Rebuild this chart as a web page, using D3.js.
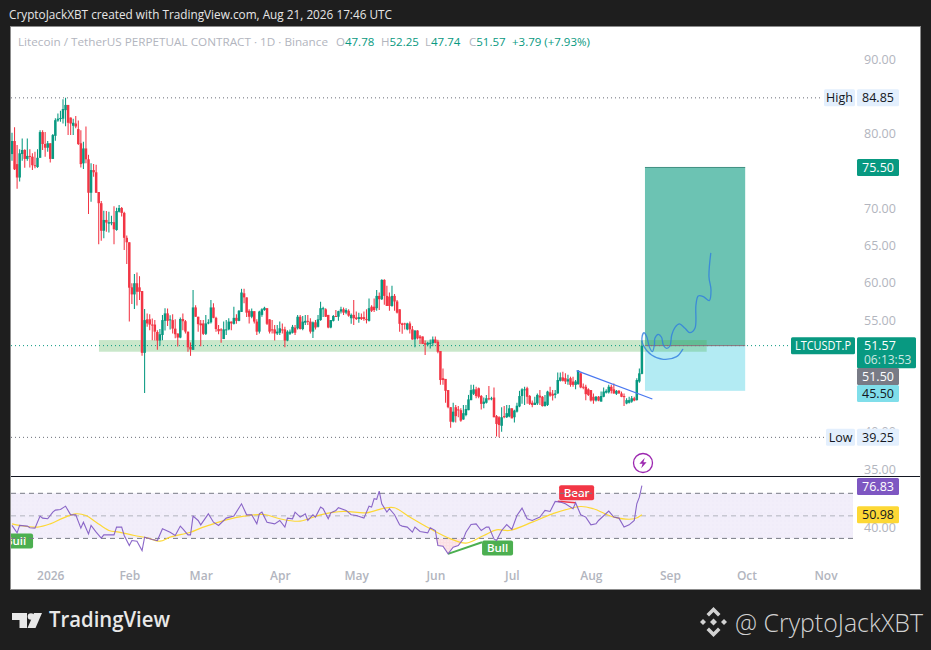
<!DOCTYPE html>
<html><head><meta charset="utf-8">
<script src="https://cdn.jsdelivr.net/npm/d3@7/dist/d3.min.js"></script>
<style>
html,body{margin:0;padding:0;background:#1e1e1e;overflow:hidden}
svg{display:block}
text{font-family:"Open Sans","Noto Sans",sans-serif}
</style></head><body><svg id="c" width="931" height="650"></svg>
<script>
const opens=[77.3,79.05,75.95,74.15,77.3,77.85,76.65,77.05,76.95,75.8,75.55,76.8,80.25,78.65,78.15,78.75,76.65,79.75,81.8,82.0,82.05,83.2,83.9,82.2,81.1,81.4,80.65,78.75,76.05,78.05,76.6,72.1,75.15,74.85,72.2,70.7,67,68.45,67.95,68,68.15,67.1,69.55,70.05,69.4,66.05,65.45,59.4,58.45,59.95,59.4,58.9,50.6,55.1,55.1,54.4,54.4,53.4,52.25,53,54.9,55.9,55,55,53.85,53.2,52.65,55.15,54.85,53.45,51.4,51,56.7,55.45,54.55,54.55,53.15,54.55,54.7,56.7,55.3,53.8,
53.75,52.45,53.65,53.75,54.8,54.5,55.3,54.9,56.1,58.6,58.05,56.25,55.45,56.2,54.8,53.45,55.7,56.35,56.6,55.1,53.75,53.75,53.2,53.3,53.75,53.75,52.25,53.15,53.3,54,53.9,55.45,53.8,54.65,54.9,54.8,53.45,54.7,54.1,55,56.45,56.45,55.7,54,54.9,55.55,55.45,56.15,56.45,56,56.25,55.25,55.7,55.35,55.15,55.4,55.4,55.15,54.9,56.8,56.8,56.6,58.25,57.8,60.4,58.25,58.15,56.9,58.25,57.5,56.45,54.55,54.55,53.75,54.55,53.75,52.4,53.6,52.8,52.8,51.9,51.7,51.8,51.9,52.4,52.1,
50.85,47.2,47.1,45.6,43.3,41.35,43.3,43,42.9,41.65,42.25,42.9,44.25,45.1,45.7,45.85,44.8,43.75,43.9,44.5,44.4,44.6,42.1,41.95,40.8,42.1,41.95,42.05,43.15,41.95,42.7,43.4,44.8,45.6,45.85,44.8,43.9,43.6,43.8,44.85,44.7,43.45,43.6,45.3,45.1,44.95,45.15,46.85,47.3,47.2,46.75,47.2,46.75,46.3,46.4,47.85,46.05,46.05,45.7,45.6,44.7,44.2,44.7,44.05,44.7,45.25,45.3,46.05,45.7,45.1,45.5,45.15,44.8,43.8,43.9,44.05,44.5,44.25,46.75,47.78];
const highs=[80.17,80.9,78.5,77.95,79.4,77.95,79.4,77.95,77.4,77.6,77.95,80.5,80.5,80.25,79.05,78.75,80,82.1,82.75,83.1,84.65,84.85,83.9,82.2,82.05,82.4,81.8,80.5,78.95,81,77.2,76.05,75.95,75.85,72.2,71,69.7,69.65,69.55,69,70.3,70.1,70.45,70.2,69.55,66.35,65.45,59.95,61.2,61.4,60.9,58.9,56.5,55.9,55.8,55.2,55,53.65,53.8,55.7,56.6,56.55,55.65,55.8,55.1,53.2,55.35,55.9,55,53.45,52,59.05,57,55.45,55,55,55.7,55.1,57.7,57.25,55.45,54.35,
53.9,54.8,55,55.25,54.8,56.8,55.8,56.35,59.2,59.2,58.05,56.45,56.55,56.2,55.1,56.25,56.6,56.8,56.6,55.1,55,54.35,54.35,54.8,54.55,54.1,53.65,53.75,54.35,54.35,55.7,55.7,55.55,55.7,55.7,55.25,54.8,55,55.7,57.45,56.8,56.6,55.7,55,55.7,56.35,56.25,56.8,56.7,56.6,56.45,55.9,57.7,56.15,56,55.9,56.15,56.45,57.9,57,57.9,59.05,58.7,60.5,60.5,59.6,58.7,59.6,58.5,57.7,56.45,54.65,54.65,54.65,54.8,54.2,53.65,53.65,53,52.8,52.25,52.1,52.4,52.8,52.8,52.35,
50.85,48.5,47.1,45.6,43.3,43.9,43.6,43.45,43.15,43.6,43.6,44.95,46.3,46.3,46.05,45.95,44.95,44.6,44.95,46.15,44.7,45.95,42.25,42.1,43.3,43.45,43.6,43.6,43.15,42.95,43.9,45.5,45.85,46.05,46.05,44.95,44.2,44.7,45.15,45.6,44.8,44.95,45.5,46.05,45.6,45.6,47.95,47.95,48.05,47.85,47.65,47.4,47.4,46.95,48.3,47.95,46.5,46.3,45.85,45.6,45.15,44.8,44.8,45.4,45.95,45.7,46.3,46.3,46.5,45.6,45.6,45.4,45.15,44.5,44.7,44.8,44.7,47.2,48.5,52.25];
const lows=[76.4,75.15,72.65,73.6,76.4,75.45,76.4,75.5,75.15,75.4,75.45,76.8,77.85,76.95,77.6,76.15,76.65,79.1,81.65,81.65,81.4,81.05,79.85,79.85,79.85,80.75,78.5,75.5,75.3,76.05,69.25,70.9,74.25,72.1,65.2,65.65,66,66.85,66.75,67.75,65.2,67,69.45,68.9,64.4,62.55,54.8,57.15,56.5,56.95,57.7,50.2,45.2,54.1,53.65,52.3,52.25,51,51.55,52.3,53.6,54.2,53.75,53.2,52.55,51.45,52.55,53.65,53.2,50.75,50.2,51,55.45,53.45,51.5,53,53,54.45,54.55,55.25,53.45,53.1,
51.95,52.45,53,53.65,53.65,54.4,54.5,54.85,56.1,57.25,55.4,54.55,55.25,54.55,53,53.2,55.45,56.25,54.35,53.2,53.2,52.25,53,53,53.2,51.35,52.15,53,53.2,53,53.75,53.75,53.65,54.35,54.35,53.2,52.6,53.75,54,54.9,55.4,55.4,53.9,53.9,54.8,55.4,54.9,55.9,55.7,55.8,55.45,54.5,54.35,55,54.65,55,54.9,54.55,54.8,56.1,56.1,56.25,56.35,57.7,57.05,56.9,56.25,56.8,56.25,55.9,53.45,53.15,53.75,53.65,53.2,52.35,51.35,52.4,51.8,51.8,50.3,51.5,51.2,51.5,51.9,50.55,
46.3,46.3,43.9,43.15,40.55,41.25,41.25,41.95,41.35,41.6,42.1,42.9,44.25,44.95,44.5,44.5,43,43.15,43.8,44.25,44.25,41.95,39.35,39.25,40,41.8,41.85,41.95,41.8,41.25,42.6,43.3,43.75,43.6,43.75,43.6,43.3,43.6,43.6,43.6,43.4,43.4,43.45,44.7,44.2,44.5,45.1,46.75,46.75,46.4,46.3,46.05,46.05,45.7,46.3,45.85,45.7,44.25,44.8,44.05,43.75,44.05,44.1,44.05,44.65,45.15,45.15,45.15,45.1,44.95,45.1,44.65,43.45,43.7,43.8,43.9,44.1,44.2,46.6,47.74];
const closes=[79.05,75.25,74.15,77.4,77.85,76.65,77.05,76.95,75.8,75.7,76.8,80.25,78.65,78.15,78.75,76.65,79.85,81.85,82.05,82.15,83.35,83.9,81.5,81.4,81.5,81,78.65,75.95,78.05,76.6,72.1,75.15,74.85,72.1,70.7,67,68.45,68.1,68.15,68.15,67.2,69.65,70.05,69.4,66.05,65.45,59.35,58.45,59.95,58.8,58.8,50.6,55,54.55,54.4,54.35,53.45,52.25,53.1,55,55.9,54.9,55.1,53.85,53.1,52.65,55.15,54.85,53.45,51.35,51.05,56.7,55.45,54.45,54.3,53.15,54.55,54.7,56.7,55.3,53.8,53.5,
53.6,53.75,53.75,54.8,54.55,55.3,54.9,56.25,58.7,58.05,56,55.45,56.2,54.8,53.45,56.15,56.45,56.65,54.5,53.45,53.65,53.2,53.45,53.9,53.6,52.25,53.45,53.45,54.1,53.3,55.45,53.8,54.8,54.9,54.8,53.45,54.7,54,55.1,56.6,56.6,55.45,54,55,55.55,55.45,56.2,56.45,56,56.35,55.6,55.7,55.25,55.15,55.4,55.15,55.15,55,56.6,56.25,56.35,58.25,57.8,60.4,58.25,56.9,56.9,58.25,57.5,56,54.5,54.35,54.5,54.55,53.75,52.4,53.6,52.55,52.55,51.8,51.7,51.95,51.95,52.4,51.95,50.75,
46.95,46.95,45.5,43.3,41.35,42.7,42.1,42.9,41.5,42.5,43.05,44.35,45.6,45.7,44.8,44.7,43.75,44.05,44.5,44.4,44.5,41.95,41.05,40.9,41.95,41.95,42.5,43.15,41.8,42.85,43.5,44.8,45.7,45.7,44.7,43.75,43.6,43.9,44.95,44.6,43.45,44.05,45.4,44.85,44.85,45.15,46.95,47.3,46.85,46.75,47.05,46.3,46.3,46.75,48.2,45.95,45.95,45.05,44.95,44.2,44.2,44.7,44.2,44.8,45.4,45.5,46.05,45.5,45.15,45.5,45.15,44.7,44.65,44.25,44.25,44.5,44.2,46.95,47.85,51.57];

const rsiIdx=[0,2,3,6,7,9,11,12,14,16,17,19,21,23,25,27,28,30,31,33,35,36,40,41,43,44,46,47,49,51,52,55,57,59,62,64,66,67,69,70,71,73,74,77,79,81,84,87,90,92,94,96,97,98,100,103,105,107,108,110,111,113,115,116,118,119,121,122,124,125,127,128,131,133,135,138,140,141,142,143,144,145,147,148,150,152,153,155,157,158,160,163,164,166,167,169,171,173,175,177,178,180,182,184,186,187,189,190,192,194,196,198,200,202,204,207,209,211,213,215,217,220,221,223,225,227,229,230,234,236,238,240,242,244,245,246,247];
const rsiVal=[41.5,34.9,41.5,40.9,39.4,39.1,49.75,48,47.4,53.3,55.1,55.7,58.6,50.9,50.9,39.1,44.4,34,41.5,35.5,30.2,33.1,33.1,40,40,32.6,23.7,28.1,27.5,19.2,31.1,29,28.1,38.5,35.5,32.6,40.9,38.5,33.1,33.1,49.75,45.9,42,51.8,44.4,41.5,48,49.75,60.7,50.9,50.9,42.9,51.8,53.3,44.4,42.9,45.9,40,48,47.4,53.3,48.9,51.8,45.9,51,48.9,57.8,56.3,47.4,52.7,54.8,57.2,54.8,51,50.3,48,58.6,57.8,65.2,64.6,72,60.7,53.3,56.3,51,42,40.9,40,35.5,40,36.1,34.9,39.4,37,23.7,23.1,16.3,22.2,23.7,29.6,35.5,42.3,42.9,37,40,40,29.6,28.1,37,42.3,37.9,50.3,56.9,47.4,45.9,48.9,54.8,53.9,62.8,62.2,60.7,56.3,61.6,51,48.9,42,42.9,45.9,54.2,48.9,48,40,42,45.9,60.7,66.6,76.83];
const smaIdx=[0,3,10,15,20,25,29,33,38,42,48,53,58,62,70,74,79,84,91,99,105,113,121,130,139,146,150,156,164,172,178,185,190,195,204,212,223,228,236,244,247];
const smaVal=[42.9,41.5,40,42.9,48,51.8,50.3,44.4,37,35.5,32.6,30.5,27.5,31.1,35.5,39.1,42.9,46.5,49.75,51.2,47.4,45.3,50.9,53.9,52.7,56.9,57.2,48.9,38.5,29.6,25.8,32.6,37.6,37,44.4,51.8,58.3,56.3,48.9,47.4,50.98];

const brushIdx=[263,260.6,255.4,250.8,247.5,247,247.8,248.9,249.9,251.1,251.9,252.1,253.4,254.7,255.4,256.7,258,258.7,260,261.7,263.9,265.8,267.8,268.2,269.1,271.1,273.4,274.1,273.3,274];
const brushPrice=[51.07,50.09,49.73,50.3,51.66,52.55,53.3,52.77,51.43,50.76,51.66,52.55,53.09,52.69,51.66,51.21,51.52,53,54.03,54.48,53.9,53.31,53.9,57.03,58.24,58.15,57.61,59.04,60.83,63.97];

const priceTicks=[90,80,70,65,60,55,40,35];
const monthLabels=["2026","Feb","Mar","Apr","May","Jun","Jul","Aug","Sep","Oct","Nov"];
const monthDates=["2026-01-01","2026-02-01","2026-03-01","2026-04-01","2026-05-01","2026-06-01","2026-07-01","2026-08-01","2026-09-01","2026-10-01","2026-11-01"];
const firstDay=new Date("2025-12-17T00:00:00Z");
const rsiTicks=[40];
const entry=51.57, target=75.5, stop=45.5, pendingLevel=51.5, highPrice=84.85, lowPrice=39.25;
const rsiNow=76.83, smaNow=50.98;
const zone={i0:34.1,i1:272.4,hi:52.32,lo:50.75};
const posBox={i0:248.2,i1:287.5};
const trend={i0:221.4,p0:48.2,i1:251.1,p1:44.4};
const bullDiv={i0:171,r0:16.3,i1:184.3,r1:26.6};
const bearDiv={i0:214,r0:63,i1:221,r1:61.6};

const C={green:"#089981",red:"#f23645",tick:"#b2b5be",tag:"#e3effd",txt:"#131722"};
const svg=d3.select("#c");
const L=11,R=920,T=27,B=589,SEP=476,AX=857;
const x=d3.scaleLinear().domain([0,247]).range([12,641.9]);
const y=d3.scaleLinear().domain([90,35]).range([59.5,469]);
const ry=d3.scaleLinear().domain([70,30]).range([493.3,538.4]);
const dayIdx=s=>(new Date(s+"T00:00:00Z")-firstDay)/864e5;

svg.append("rect").attr("width",931).attr("height",650).attr("fill","#1e1e1e");
svg.append("rect").attr("x",L-.5).attr("y",T-.5).attr("width",R-L+1).attr("height",B-T+1).attr("fill","#fff").attr("stroke","#8c8c8c");
const defs=svg.append("defs");
defs.append("clipPath").attr("id","main").append("rect").attr("x",L).attr("y",T).attr("width",AX-L-2).attr("height",SEP-T);
defs.append("clipPath").attr("id","sub").append("rect").attr("x",L).attr("y",SEP+1).attr("width",AX-L-2).attr("height",B-SEP-1);
const pat=defs.append("pattern").attr("id","dots").attr("width",4).attr("height",4).attr("patternUnits","userSpaceOnUse");
pat.append("rect").attr("width",4).attr("height",4).attr("fill","#f2eefa");
pat.append("circle").attr("cx",1).attr("cy",1).attr("r",.5).attr("fill","#ebe5f7");
const pink=defs.append("pattern").attr("id","pink").attr("width",3).attr("height",3).attr("patternUnits","userSpaceOnUse");
pink.append("rect").attr("width",3).attr("height",3).attr("fill","#fcdfe3");
pink.append("circle").attr("cx",1).attr("cy",1).attr("r",.6).attr("fill","#fff");

// header
svg.append("text").attr("x",9).attr("y",19).attr("fill","#e6e6e6").attr("font-size",12)
  .attr("textLength",383).attr("lengthAdjust","spacingAndGlyphs").text("CryptoJackXBT created with TradingView.com, Aug 21, 2026 17:46 UTC");

// price axis
const gA=svg.append("g").attr("transform",`translate(${AX},0)`).call(d3.axisRight(y).tickValues(priceTicks).tickSize(0).tickPadding(7).tickFormat(d3.format(".2f")));
gA.select(".domain").remove();
gA.selectAll("text").attr("fill",C.tick).attr("font-size",12.5).attr("font-family",'"Open Sans"');
const gR=svg.append("g").attr("transform",`translate(${AX},0)`).call(d3.axisRight(ry).tickValues(rsiTicks).tickSize(0).tickPadding(7).tickFormat(d3.format(".2f")));
gR.select(".domain").remove();
gR.selectAll("text").attr("fill",C.tick).attr("font-size",12.5).attr("font-family",'"Open Sans"');

// main pane
const m=svg.append("g").attr("clip-path","url(#main)");
m.append("line").attr("x1",L).attr("x2",823).attr("y1",y(highPrice)).attr("y2",y(highPrice)).attr("stroke","#6a6d78").attr("stroke-dasharray","1 3");
m.append("line").attr("x1",L).attr("x2",826).attr("y1",y(lowPrice)).attr("y2",y(lowPrice)).attr("stroke","#6a6d78").attr("stroke-dasharray","1 3");
m.append("rect").attr("x",x(posBox.i0)).attr("width",x(posBox.i1)-x(posBox.i0)).attr("y",y(target)).attr("height",y(entry)-y(target)).attr("fill","#6cc3b3");
m.append("line").attr("x1",x(posBox.i0)).attr("x2",x(posBox.i1)).attr("y1",y(target)).attr("y2",y(target)).attr("stroke","#3f8f80");
m.append("rect").attr("x",x(posBox.i0)).attr("width",x(posBox.i1)-x(posBox.i0)).attr("y",y(entry)).attr("height",y(stop)-y(entry)).attr("fill","#b3ebf3");
m.append("rect").attr("x",x(zone.i0)).attr("width",x(zone.i1)-x(zone.i0)).attr("y",y(zone.hi)).attr("height",y(zone.lo)-y(zone.hi)).attr("fill","#4caf50").attr("fill-opacity",.3);
m.append("line").attr("x1",L).attr("x2",790).attr("y1",y(entry)).attr("y2",y(entry)).attr("stroke",C.green).attr("stroke-dasharray","1 3");
m.append("line").attr("x1",x(posBox.i0)).attr("x2",x(posBox.i1)).attr("y1",y(entry)).attr("y2",y(entry)).attr("stroke","#8a6f78");

const cg=m.append("g");
const idx=d3.range(opens.length);
const col=i=>closes[i]>=opens[i]?C.green:C.red;
cg.selectAll("line").data(idx).join("line").attr("x1",i=>x(i)).attr("x2",i=>x(i)).attr("y1",i=>y(highs[i])).attr("y2",i=>y(lows[i])).attr("stroke",col).attr("stroke-width",1.05);
cg.selectAll("rect").data(idx).join("rect").attr("x",i=>x(i)-1.25).attr("width",2.5)
  .attr("y",i=>y(Math.max(opens[i],closes[i]))).attr("height",i=>Math.max(1,Math.abs(y(opens[i])-y(closes[i])))).attr("fill",col);

m.append("line").attr("x1",x(trend.i0)).attr("y1",y(trend.p0)).attr("x2",x(trend.i1)).attr("y2",y(trend.p1)).attr("stroke","#4a78f0").attr("stroke-width",1.3);
m.append("path").attr("fill","none").attr("stroke","#2f7de0").attr("stroke-opacity",.8).attr("stroke-width",1.3).attr("stroke-linecap","round")
  .attr("d",d3.line().x(i=>x(brushIdx[i])).y(i=>y(brushPrice[i])).curve(d3.curveCatmullRom)(d3.range(brushIdx.length)));

// lightning icon
const bolt=svg.append("g").attr("transform","translate(643,463)");
bolt.append("circle").attr("r",9.5).attr("fill","#fff").attr("stroke","#9c27b0").attr("stroke-width",1.3);
bolt.append("path").attr("d","M1.8,-5.2 L-3.6,0.8 L-0.4,0.8 L-1.8,5.2 L3.6,-0.8 L0.4,-0.8 Z").attr("fill","#9c27b0");

// separator
svg.append("line").attr("x1",L).attr("x2",R).attr("y1",SEP+.5).attr("y2",SEP+.5).attr("stroke","#131722");

// RSI pane
const s=svg.append("g").attr("clip-path","url(#sub)");
const bandEnd=853;
s.append("rect").attr("x",L).attr("width",bandEnd-L).attr("y",ry(70)).attr("height",ry(30)-ry(70)).attr("fill","url(#dots)");
function badge(g,i,r,w,fill,label){
  const cx=x(i),cy=ry(r);
  g.append("rect").attr("x",cx-w/2).attr("y",cy-7.5).attr("width",w).attr("height",15).attr("rx",2).attr("fill",fill);
  g.append("text").attr("x",cx).attr("y",cy+4).attr("text-anchor","middle").attr("fill","#fff").attr("font-size",11.5).attr("font-weight",600).text(label);
}
s.append("path").attr("fill","url(#pink)")
  .attr("d",d3.area().x(i=>x(rsiIdx[i])).y0(ry(30)).y1(i=>ry(Math.min(rsiVal[i],30))).curve(d3.curveLinear)(d3.range(rsiIdx.length).filter(i=>rsiIdx[i]>=166&&rsiIdx[i]<=177)));
s.append("line").attr("x1",x(bullDiv.i0)).attr("y1",ry(bullDiv.r0)).attr("x2",x(bullDiv.i1)).attr("y2",ry(bullDiv.r1)).attr("stroke","#4caf50").attr("stroke-width",2);
s.append("line").attr("x1",x(bearDiv.i0)).attr("y1",ry(bearDiv.r0)).attr("x2",x(bearDiv.i1)).attr("y2",ry(bearDiv.r1)).attr("stroke",C.red).attr("stroke-width",1.5);
badge(s,1.4,27.7,35,"#4caf50","Bull");
badge(s,190.4,21.5,31,"#4caf50","Bull");
badge(s,221.4,70.4,35,C.red,"Bear");
[[70,"#787b86"],[30,"#787b86"],[50,"#b2b5be"]].forEach(([v,c])=>{
  s.append("line").attr("x1",L).attr("x2",bandEnd).attr("y1",ry(v)).attr("y2",ry(v)).attr("stroke",c).attr("stroke-dasharray","5 4");
});
s.append("path").attr("fill","none").attr("stroke","#fdd835").attr("stroke-width",1.2)
  .attr("d",d3.line().x(i=>x(smaIdx[i])).y(i=>ry(smaVal[i])).curve(d3.curveCatmullRom)(d3.range(smaIdx.length)));
s.append("path").attr("fill","none").attr("stroke","#7e57c2").attr("stroke-opacity",.9).attr("stroke-width",1.1)
  .attr("d",d3.line().x(i=>x(rsiIdx[i])).y(i=>ry(rsiVal[i]))(d3.range(rsiIdx.length)));

// time axis
const gT=svg.append("g").attr("transform","translate(0,564)").call(d3.axisBottom(x).tickValues(monthDates.map(dayIdx)).tickSize(0).tickPadding(7).tickFormat((d,i)=>monthLabels[i]));
gT.select(".domain").remove();
gT.selectAll("text").attr("fill",C.tick).attr("font-size",12).attr("font-weight",600).attr("font-family",'"Open Sans"');

// legend
const leg=svg.append("text").attr("y",45.5).attr("font-size",11.5).attr("fill",C.tick);
leg.append("tspan").attr("x",18).attr("textLength",310).attr("lengthAdjust","spacingAndGlyphs").text("Litecoin / TetherUS PERPETUAL CONTRACT · 1D · Binance");
[["O","47.78",336],["H","52.25",381],["L","47.74",425],["C","51.57",469]].forEach(([k,v,px])=>{
  leg.append("tspan").attr("x",px).text(k);
  leg.append("tspan").attr("fill",C.green).text(v);
});
leg.append("tspan").attr("x",512).attr("fill",C.green).text("+3.79 (+7.93%)");

// price tags
function tag(x0,w,cy,h,fill,color,label,len){
  svg.append("rect").attr("x",x0).attr("y",cy-h/2).attr("width",w).attr("height",h).attr("rx",1.5).attr("fill",fill);
  const t=svg.append("text").attr("x",x0+w/2).attr("y",cy+4.3).attr("text-anchor","middle").attr("fill",color).attr("font-size",12.5).text(label);
  if(len) t.attr("textLength",len).attr("lengthAdjust","spacingAndGlyphs");
}
const fmt=d3.format(".2f");
tag(824,31,y(highPrice),17,C.tag,C.txt,"High");
tag(857,42,y(highPrice),17,C.tag,C.txt,fmt(highPrice));
tag(857,42,y(target),17,C.green,"#fff",fmt(target));
tag(826,29,y(lowPrice),17,C.tag,C.txt,"Low");
tag(857,42,y(lowPrice),17,C.tag,C.txt,fmt(lowPrice));
tag(791,64,y(entry),17,C.green,"#fff","LTCUSDT.P",56);
svg.append("rect").attr("x",857).attr("y",y(entry)-8.5).attr("width",59).attr("height",31).attr("rx",1.5).attr("fill",C.green);
svg.append("text").attr("x",864).attr("y",y(entry)+4.3).attr("fill","#fff").attr("font-size",12.5).text(fmt(entry));
svg.append("text").attr("x",864).attr("y",y(entry)+18.5).attr("fill","#fff").attr("fill-opacity",.8).attr("font-size",12).text("06:13:53");
tag(857,42,376.5,17,"#787b86","#fff",fmt(pendingLevel));
tag(857,42,393.5,17,"#80deea",C.txt,fmt(stop));
tag(857,42,ry(rsiNow)+1,17,"#7e57c2","#fff",fmt(rsiNow));
tag(857,42,ry(smaNow),17,"#fdd835",C.txt,fmt(smaNow));

// footer logos
const fg="#e8e8e8";
const lg=svg.append("g").attr("fill",fg);
lg.append("path").attr("d","M12,613 H27 V628 H19.5 V620 H12 Z");
lg.append("circle").attr("cx",31).attr("cy",616.5).attr("r",3.3);
lg.append("path").attr("d","M34,613 H42 L35.5,628 H27.5 Z");
svg.append("text").attr("x",49).attr("y",627).attr("fill",fg).attr("font-size",21).attr("font-weight",600).attr("textLength",121).attr("lengthAdjust","spacingAndGlyphs").text("TradingView");
const bn=svg.append("g").attr("transform","translate(713.5,622)").attr("fill","#d2d2d2");
bn.append("path").attr("d","M0,-15 L7,-8 L4.5,-5.5 L0,-10 L-4.5,-5.5 L-7,-8 Z");
bn.append("path").attr("d","M0,15 L7,8 L4.5,5.5 L0,10 L-4.5,5.5 L-7,8 Z");
bn.append("path").attr("d","M0,-3.5 L3.5,0 L0,3.5 L-3.5,0 Z");
bn.append("path").attr("d","M-10.5,-3 L-7.5,0 L-10.5,3 L-13.5,0 Z");
bn.append("path").attr("d","M10.5,-3 L13.5,0 L10.5,3 L7.5,0 Z");
svg.append("text").attr("x",735).attr("y",632).attr("fill","#d2d2d2").attr("font-size",25).attr("font-weight",300).attr("textLength",188).attr("lengthAdjust","spacingAndGlyphs").text("@ CryptoJackXBT");
</script></body></html>
